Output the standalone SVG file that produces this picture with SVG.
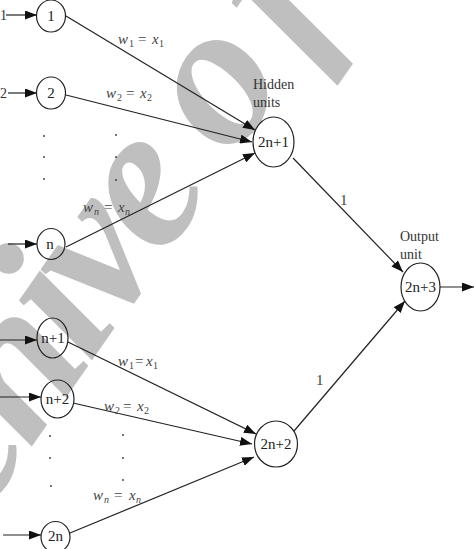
<svg xmlns="http://www.w3.org/2000/svg" width="474" height="549" viewBox="0 0 474 549">
<style>
  .node ellipse { fill: #ffffff; fill-opacity: 0; stroke: #222; stroke-width: 1.2; }
  .lbl { font-family: "Liberation Serif", "DejaVu Serif", serif; font-size: 15px; fill: #222; text-anchor: middle; }
  .txt { font-family: "Liberation Serif", "DejaVu Serif", serif; font-size: 14px; fill: #333; }
  .w { font-family: "Liberation Serif", "DejaVu Serif", serif; font-size: 15px; fill: #444; }
  .it { font-style: italic; }
  .sub { font-size: 10px; }
  .edge { stroke: #222; stroke-width: 1.2; fill: none; marker-end: url(#arr); }
  .dot { fill: #333; }
  .wm { font-family: "Liberation Serif", "DejaVu Serif", serif; font-style: italic; font-weight: bold; font-size: 205px; letter-spacing: -10px; fill: #bfbfbf; }
</style>
<defs>
  <marker id="arr" markerUnits="userSpaceOnUse" markerWidth="13" markerHeight="9" viewBox="0 0 13 9" refX="12" refY="4.5" orient="auto">
    <path d="M0,0 L12,4.5 L0,9 z" fill="#111"/>
  </marker>
</defs>
<rect width="474" height="549" fill="#ffffff"/>
<text class="wm" transform="translate(-17,516) rotate(-55)">chive o<tspan dx="28">f</tspan></text>

<g id="connectors">
  <line class="edge" x1="6" y1="15" x2="37" y2="15"/>
  <line class="edge" x1="8" y1="93" x2="37" y2="93"/>
  <line class="edge" x1="8" y1="244" x2="37" y2="244"/>
  <line class="edge" x1="0" y1="340" x2="37" y2="340"/>
  <line class="edge" x1="0" y1="397" x2="41" y2="397"/>
  <line class="edge" x1="3" y1="535" x2="41" y2="535"/>
  <line class="edge" x1="66" y1="16" x2="255" y2="130"/>
  <line class="edge" x1="66" y1="95" x2="252" y2="142"/>
  <line class="edge" x1="66" y1="247" x2="255" y2="153"/>
  <line class="edge" x1="68" y1="342" x2="256" y2="434"/>
  <line class="edge" x1="73" y1="403" x2="252" y2="444"/>
  <line class="edge" x1="70" y1="533" x2="254" y2="457"/>
  <line class="edge" x1="293" y1="158" x2="403" y2="272"/>
  <line class="edge" x1="294" y1="431" x2="405" y2="301"/>
  <line class="edge" x1="440" y1="287" x2="474" y2="287"/>
</g>

<g id="edge-labels">
  <text class="txt" x="0" y="20">1</text>
  <text class="txt" x="0" y="98">2</text>
  <text class="w" x="118" y="44"><tspan class="it">w</tspan><tspan class="sub" x="129" y="47">1</tspan><tspan x="138" y="44">=</tspan><tspan class="it" x="152">x</tspan><tspan class="sub" x="159" y="47">1</tspan></text>
  <text class="w" x="106" y="98"><tspan class="it">w</tspan><tspan class="sub" x="117" y="101">2</tspan><tspan x="126" y="98">=</tspan><tspan class="it" x="140">x</tspan><tspan class="sub" x="147" y="101">2</tspan></text>
  <text class="w" x="83" y="212"><tspan class="it">w</tspan><tspan class="sub it" x="94" y="215">n</tspan><tspan x="104" y="212">=</tspan><tspan class="it" x="118">x</tspan><tspan class="sub it" x="125" y="215">n</tspan></text>
  <text class="w" x="118" y="366"><tspan class="it">w</tspan><tspan class="sub" x="129" y="369">1</tspan><tspan x="135" y="366">=</tspan><tspan class="it" x="146">x</tspan><tspan class="sub" x="153" y="369">1</tspan></text>
  <text class="w" x="104" y="411"><tspan class="it">w</tspan><tspan class="sub" x="115" y="414">2</tspan><tspan x="123" y="411">=</tspan><tspan class="it" x="137">x</tspan><tspan class="sub" x="144" y="414">2</tspan></text>
  <text class="w" x="93" y="500"><tspan class="it">w</tspan><tspan class="sub it" x="104" y="503">n</tspan><tspan x="114" y="500">=</tspan><tspan class="it" x="129">x</tspan><tspan class="sub it" x="136" y="503">n</tspan></text>
  <text class="w" x="340" y="205">1</text>
  <text class="w" x="316" y="385">1</text>
  <text class="txt" x="253" y="89">Hidden</text>
  <text class="txt" x="253" y="107">units</text>
  <text class="txt" x="400" y="241">Output</text>
  <text class="txt" x="400" y="259">unit</text>
</g>

<g id="dots">
  <circle class="dot" cx="44" cy="136" r="0.9"/>
  <circle class="dot" cx="44" cy="157" r="0.9"/>
  <circle class="dot" cx="44" cy="179" r="0.9"/>
  <circle class="dot" cx="116" cy="135" r="0.9"/>
  <circle class="dot" cx="116" cy="157" r="0.9"/>
  <circle class="dot" cx="116" cy="180" r="0.9"/>
  <circle class="dot" cx="50" cy="436" r="0.9"/>
  <circle class="dot" cx="50" cy="458" r="0.9"/>
  <circle class="dot" cx="51" cy="486" r="0.9"/>
  <circle class="dot" cx="123" cy="435" r="0.9"/>
  <circle class="dot" cx="123" cy="458" r="0.9"/>
  <circle class="dot" cx="123" cy="480" r="0.9"/>
</g>

<g id="node-1" class="node"><ellipse cx="51" cy="16" rx="14.5" ry="16"/><text class="lbl" x="51" y="21">1</text></g>
<g id="node-2" class="node"><ellipse cx="51" cy="93" rx="14.5" ry="16"/><text class="lbl" x="51" y="98">2</text></g>
<g id="node-n" class="node"><ellipse cx="51" cy="244" rx="14" ry="15.5"/><text class="lbl" x="50" y="249">n</text></g>
<g id="node-n1" class="node"><ellipse cx="52.5" cy="338" rx="15.5" ry="20"/><text class="lbl" x="53" y="343">n+1</text></g>
<g id="node-n2" class="node"><ellipse cx="57.5" cy="399" rx="16.5" ry="19"/><text class="lbl" x="57.5" y="404">n+2</text></g>
<g id="node-2n" class="node"><ellipse cx="55.5" cy="537" rx="14.5" ry="15.5"/><text class="lbl" x="55.5" y="541">2n</text></g>
<g id="node-2n1" class="node"><ellipse cx="273.5" cy="142" rx="20.5" ry="25"/><text class="lbl" x="273.5" y="147">2n+1</text></g>
<g id="node-2n2" class="node"><ellipse cx="276" cy="444" rx="21.5" ry="23"/><text class="lbl" x="276" y="449">2n+2</text></g>
<g id="node-2n3" class="node"><ellipse cx="420.5" cy="287" rx="19.5" ry="24"/><text class="lbl" x="420.5" y="292">2n+3</text></g>
</svg>
